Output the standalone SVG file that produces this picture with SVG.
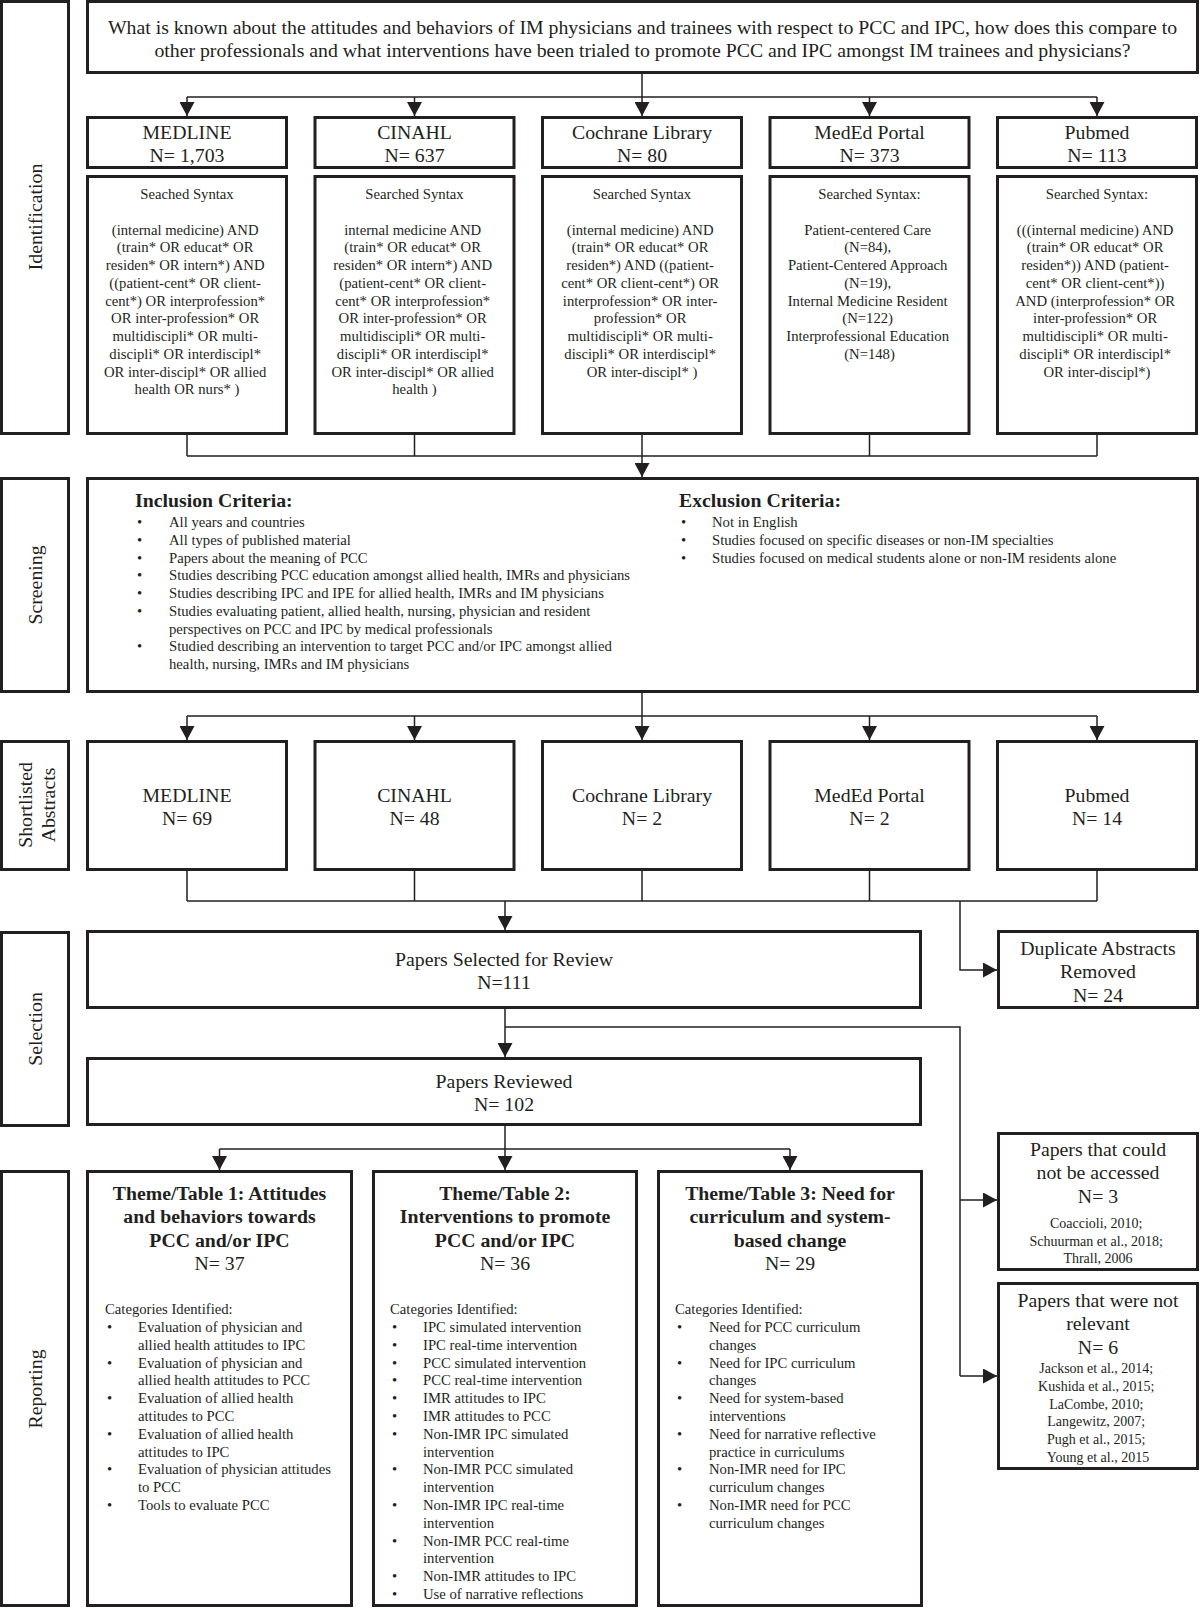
<svg xmlns="http://www.w3.org/2000/svg" width="1200" height="1608" viewBox="0 0 1200 1608">
<defs>
<style>
.b{fill:#fff;stroke:#231f20;stroke-width:3}
.t{font-family:"Liberation Serif","Times New Roman",serif;fill:#231f20}
.L{font-size:19.8px}
.s{font-size:14.7px}
.r{font-size:14px}
.c{text-anchor:middle}
.bd{font-weight:bold}
.ln{fill:none;stroke:#231f20;stroke-width:1.5}
.a{marker-end:url(#ar)}
</style>
<marker id="ar" markerUnits="userSpaceOnUse" markerWidth="14" markerHeight="15" viewBox="0 0 14 15" refX="14" refY="7.5" orient="auto">
<path d="M0,0 L14,7.5 L0,15 z" fill="#231f20"/>
</marker>
</defs>
<rect width="1200" height="1608" fill="#fff"/>

<!-- stage labels -->
<g id="stage-identification">
<rect class="b" x="1.5" y="1.5" width="67" height="432"/>
<text class="t L c" transform="translate(41.5,217) rotate(-90)">Identification</text>
</g>
<g id="stage-screening">
<rect class="b" x="1.5" y="478.5" width="67" height="213"/>
<text class="t L c" transform="translate(41.5,585) rotate(-90)">Screening</text>
</g>
<g id="stage-shortlisted">
<rect class="b" x="1.5" y="741.5" width="67" height="128"/>
<text class="t L c" transform="translate(31.5,805) rotate(-90)">Shortlisted</text>
<text class="t L c" transform="translate(54.5,805) rotate(-90)">Abstracts</text>
</g>
<g id="stage-selection">
<rect class="b" x="1.5" y="932.5" width="67" height="193"/>
<text class="t L c" transform="translate(41.5,1029) rotate(-90)">Selection</text>
</g>
<g id="stage-reporting">
<rect class="b" x="1.5" y="1171.5" width="67" height="434"/>
<text class="t L c" transform="translate(41.5,1389) rotate(-90)">Reporting</text>
</g>

<!-- question -->
<g id="question">
<rect class="b" x="87.5" y="1.5" width="1110" height="71"/>
<text class="t L c" x="642.5" y="33.5">What is known about the attitudes and behaviors of IM physicians and trainees with respect to PCC and IPC, how does this compare to</text>
<text class="t L c" x="642.5" y="56.5">other professionals and what interventions have been trialed to promote PCC and IPC amongst IM trainees and physicians?</text>
</g>

<!-- database headers -->
<g id="db-medline">
<rect class="b" x="87.5" y="117.5" width="199" height="50"/>
<text class="t L c" x="187" y="138.5">MEDLINE</text>
<text class="t L c" x="187" y="162">N= 1,703</text>
</g>
<g id="db-cinahl">
<rect class="b" x="315" y="117.5" width="199" height="50"/>
<text class="t L c" x="414.5" y="138.5">CINAHL</text>
<text class="t L c" x="414.5" y="162">N= 637</text>
</g>
<g id="db-cochrane">
<rect class="b" x="542.5" y="117.5" width="199" height="50"/>
<text class="t L c" x="642" y="138.5">Cochrane Library</text>
<text class="t L c" x="642" y="162">N= 80</text>
</g>
<g id="db-meded">
<rect class="b" x="770" y="117.5" width="199" height="50"/>
<text class="t L c" x="869.5" y="138.5">MedEd Portal</text>
<text class="t L c" x="869.5" y="162">N= 373</text>
</g>
<g id="db-pubmed">
<rect class="b" x="997.5" y="117.5" width="199" height="50"/>
<text class="t L c" x="1097" y="138.5">Pubmed</text>
<text class="t L c" x="1097" y="162">N= 113</text>
</g>

<!-- syntax boxes -->
<g id="syntax-medline">
<rect class="b" x="87.5" y="176.5" width="199" height="257"/>
<text class="t s c" x="187" y="199">Seached Syntax</text>
<text class="t s c" y="234.5">
<tspan x="187">(internal medicine) AND</tspan>
<tspan x="187" dy="17.75">(train* OR educat* OR</tspan>
<tspan x="187" dy="17.75">residen* OR intern*) AND</tspan>
<tspan x="187" dy="17.75">((patient-cent* OR client-</tspan>
<tspan x="187" dy="17.75">cent*) OR interprofession*</tspan>
<tspan x="187" dy="17.75">OR inter-profession* OR</tspan>
<tspan x="187" dy="17.75">multidiscipli* OR multi-</tspan>
<tspan x="187" dy="17.75">discipli* OR interdiscipl*</tspan>
<tspan x="187" dy="17.75">OR inter-discipl* OR allied</tspan>
<tspan x="187" dy="17.75">health OR nurs* )</tspan>
</text>
</g>
<g id="syntax-cinahl">
<rect class="b" x="315" y="176.5" width="199" height="257"/>
<text class="t s c" x="414.5" y="199">Searched Syntax</text>
<text class="t s c" y="234.5">
<tspan x="414.5">internal medicine AND</tspan>
<tspan x="414.5" dy="17.75">(train* OR educat* OR</tspan>
<tspan x="414.5" dy="17.75">residen* OR intern*) AND</tspan>
<tspan x="414.5" dy="17.75">(patient-cent* OR client-</tspan>
<tspan x="414.5" dy="17.75">cent* OR interprofession*</tspan>
<tspan x="414.5" dy="17.75">OR inter-profession* OR</tspan>
<tspan x="414.5" dy="17.75">multidiscipli* OR multi-</tspan>
<tspan x="414.5" dy="17.75">discipli* OR interdiscipl*</tspan>
<tspan x="414.5" dy="17.75">OR inter-discipl* OR allied</tspan>
<tspan x="414.5" dy="17.75">health )</tspan>
</text>
</g>
<g id="syntax-cochrane">
<rect class="b" x="542.5" y="176.5" width="199" height="257"/>
<text class="t s c" x="642" y="199">Searched Syntax</text>
<text class="t s c" y="234.5">
<tspan x="642">(internal medicine) AND</tspan>
<tspan x="642" dy="17.75">(train* OR educat* OR</tspan>
<tspan x="642" dy="17.75">residen*) AND ((patient-</tspan>
<tspan x="642" dy="17.75">cent* OR client-cent*) OR</tspan>
<tspan x="642" dy="17.75">interprofession* OR inter-</tspan>
<tspan x="642" dy="17.75">profession* OR</tspan>
<tspan x="642" dy="17.75">multidiscipli* OR multi-</tspan>
<tspan x="642" dy="17.75">discipli* OR interdiscipl*</tspan>
<tspan x="642" dy="17.75">OR inter-discipl* )</tspan>
</text>
</g>
<g id="syntax-meded">
<rect class="b" x="770" y="176.5" width="199" height="257"/>
<text class="t s c" x="869.5" y="199">Searched Syntax:</text>
<text class="t s c" y="234.5">
<tspan x="869.5">Patient-centered Care</tspan>
<tspan x="869.5" dy="17.75">(N=84),</tspan>
<tspan x="869.5" dy="17.75">Patient-Centered Approach</tspan>
<tspan x="869.5" dy="17.75">(N=19),</tspan>
<tspan x="869.5" dy="17.75">Internal Medicine Resident</tspan>
<tspan x="869.5" dy="17.75">(N=122)</tspan>
<tspan x="869.5" dy="17.75">Interprofessional Education</tspan>
<tspan x="869.5" dy="17.75">(N=148)</tspan>
</text>
</g>
<g id="syntax-pubmed">
<rect class="b" x="997.5" y="176.5" width="199" height="257"/>
<text class="t s c" x="1097" y="199">Searched Syntax:</text>
<text class="t s c" y="234.5">
<tspan x="1097">(((internal medicine) AND</tspan>
<tspan x="1097" dy="17.75">(train* OR educat* OR</tspan>
<tspan x="1097" dy="17.75">residen*)) AND (patient-</tspan>
<tspan x="1097" dy="17.75">cent* OR client-cent*))</tspan>
<tspan x="1097" dy="17.75">AND (interprofession* OR</tspan>
<tspan x="1097" dy="17.75">inter-profession* OR</tspan>
<tspan x="1097" dy="17.75">multidiscipli* OR multi-</tspan>
<tspan x="1097" dy="17.75">discipli* OR interdiscipl*</tspan>
<tspan x="1097" dy="17.75">OR inter-discipl*)</tspan>
</text>
</g>

<!-- screening -->
<g id="screening-criteria">
<rect class="b" x="87.5" y="478.5" width="1110" height="213"/>
<text class="t L bd" x="135" y="506.5">Inclusion Criteria:</text>
<text class="t s">
<tspan x="137" y="527">•</tspan>
<tspan x="137" y="544.75">•</tspan>
<tspan x="137" y="562.5">•</tspan>
<tspan x="137" y="580.25">•</tspan>
<tspan x="137" y="598">•</tspan>
<tspan x="137" y="615.75">•</tspan>
<tspan x="137" y="651.25">•</tspan>
</text>
<text class="t s">
<tspan x="169" y="527">All years and countries</tspan>
<tspan x="169" y="544.75">All types of published material</tspan>
<tspan x="169" y="562.5">Papers about the meaning of PCC</tspan>
<tspan x="169" y="580.25">Studies describing PCC education amongst allied health, IMRs and physicians</tspan>
<tspan x="169" y="598">Studies describing IPC and IPE for allied health, IMRs and IM physicians</tspan>
<tspan x="169" y="615.75">Studies evaluating patient, allied health, nursing, physician and resident</tspan>
<tspan x="169" y="633.5">perspectives on PCC and IPC by medical professionals</tspan>
<tspan x="169" y="651.25">Studied describing an intervention to target PCC and/or IPC amongst allied</tspan>
<tspan x="169" y="669">health, nursing, IMRs and IM physicians</tspan>
</text>
<text class="t L bd" x="679" y="506.5">Exclusion Criteria:</text>
<text class="t s">
<tspan x="681" y="527">•</tspan>
<tspan x="681" y="544.75">•</tspan>
<tspan x="681" y="562.5">•</tspan>
</text>
<text class="t s">
<tspan x="712" y="527">Not in English</tspan>
<tspan x="712" y="544.75">Studies focused on specific diseases or non-IM specialties</tspan>
<tspan x="712" y="562.5">Studies focused on medical students alone or non-IM residents alone</tspan>
</text>
</g>

<!-- shortlisted -->
<g id="sl-medline">
<rect class="b" x="87.5" y="741.5" width="199" height="128"/>
<text class="t L c" x="187" y="801.5">MEDLINE</text>
<text class="t L c" x="187" y="825">N= 69</text>
</g>
<g id="sl-cinahl">
<rect class="b" x="315" y="741.5" width="199" height="128"/>
<text class="t L c" x="414.5" y="801.5">CINAHL</text>
<text class="t L c" x="414.5" y="825">N= 48</text>
</g>
<g id="sl-cochrane">
<rect class="b" x="542.5" y="741.5" width="199" height="128"/>
<text class="t L c" x="642" y="801.5">Cochrane Library</text>
<text class="t L c" x="642" y="825">N= 2</text>
</g>
<g id="sl-meded">
<rect class="b" x="770" y="741.5" width="199" height="128"/>
<text class="t L c" x="869.5" y="801.5">MedEd Portal</text>
<text class="t L c" x="869.5" y="825">N= 2</text>
</g>
<g id="sl-pubmed">
<rect class="b" x="997.5" y="741.5" width="199" height="128"/>
<text class="t L c" x="1097" y="801.5">Pubmed</text>
<text class="t L c" x="1097" y="825">N= 14</text>
</g>

<!-- selection -->
<g id="papers-selected">
<rect class="b" x="87.5" y="931.5" width="833" height="76"/>
<text class="t L c" x="504" y="965.5">Papers Selected for Review</text>
<text class="t L c" x="504" y="989">N=111</text>
</g>
<g id="duplicates-removed">
<rect class="b" x="998.5" y="931.5" width="199" height="76"/>
<text class="t L c" x="1098" y="954.5">Duplicate Abstracts</text>
<text class="t L c" x="1098" y="978">Removed</text>
<text class="t L c" x="1098" y="1001.5">N= 24</text>
</g>
<g id="papers-reviewed">
<rect class="b" x="87.5" y="1058.5" width="833" height="66"/>
<text class="t L c" x="504" y="1087.5">Papers Reviewed</text>
<text class="t L c" x="504" y="1111">N= 102</text>
</g>

<!-- reporting -->
<g id="theme-1">
<rect class="b" x="87.5" y="1171.5" width="264" height="434"/>
<text class="t L c bd" x="219.5" y="1199.5">Theme/Table 1: Attitudes</text>
<text class="t L c bd" x="219.5" y="1223">and behaviors towards</text>
<text class="t L c bd" x="219.5" y="1246.5">PCC and/or IPC</text>
<text class="t L c" x="219.5" y="1270">N= 37</text>
<text class="t s" x="105" y="1314">Categories Identified:</text>
<text class="t s">
<tspan x="107" y="1332">•</tspan>
<tspan x="107" y="1367.6">•</tspan>
<tspan x="107" y="1403.2">•</tspan>
<tspan x="107" y="1438.8">•</tspan>
<tspan x="107" y="1474.4">•</tspan>
<tspan x="107" y="1510">•</tspan>
</text>
<text class="t s">
<tspan x="138" y="1332">Evaluation of physician and</tspan>
<tspan x="138" y="1349.8">allied health attitudes to IPC</tspan>
<tspan x="138" y="1367.6">Evaluation of physician and</tspan>
<tspan x="138" y="1385.4">allied health attitudes to PCC</tspan>
<tspan x="138" y="1403.2">Evaluation of allied health</tspan>
<tspan x="138" y="1421">attitudes to PCC</tspan>
<tspan x="138" y="1438.8">Evaluation of allied health</tspan>
<tspan x="138" y="1456.6">attitudes to IPC</tspan>
<tspan x="138" y="1474.4">Evaluation of physician attitudes</tspan>
<tspan x="138" y="1492.2">to PCC</tspan>
<tspan x="138" y="1510">Tools to evaluate PCC</tspan>
</text>
</g>
<g id="theme-2">
<rect class="b" x="373.5" y="1171.5" width="263" height="434"/>
<text class="t L c bd" x="505" y="1199.5">Theme/Table 2:</text>
<text class="t L c bd" x="505" y="1223">Interventions to promote</text>
<text class="t L c bd" x="505" y="1246.5">PCC and/or IPC</text>
<text class="t L c" x="505" y="1270">N= 36</text>
<text class="t s" x="390" y="1314">Categories Identified:</text>
<text class="t s">
<tspan x="392" y="1332">•</tspan>
<tspan x="392" y="1349.8">•</tspan>
<tspan x="392" y="1367.6">•</tspan>
<tspan x="392" y="1385.4">•</tspan>
<tspan x="392" y="1403.2">•</tspan>
<tspan x="392" y="1421">•</tspan>
<tspan x="392" y="1438.8">•</tspan>
<tspan x="392" y="1474.4">•</tspan>
<tspan x="392" y="1510">•</tspan>
<tspan x="392" y="1545.6">•</tspan>
<tspan x="392" y="1581.2">•</tspan>
<tspan x="392" y="1599">•</tspan>
</text>
<text class="t s">
<tspan x="423" y="1332">IPC simulated intervention</tspan>
<tspan x="423" y="1349.8">IPC real-time intervention</tspan>
<tspan x="423" y="1367.6">PCC simulated intervention</tspan>
<tspan x="423" y="1385.4">PCC real-time intervention</tspan>
<tspan x="423" y="1403.2">IMR attitudes to IPC</tspan>
<tspan x="423" y="1421">IMR attitudes to PCC</tspan>
<tspan x="423" y="1438.8">Non-IMR IPC simulated</tspan>
<tspan x="423" y="1456.6">intervention</tspan>
<tspan x="423" y="1474.4">Non-IMR PCC simulated</tspan>
<tspan x="423" y="1492.2">intervention</tspan>
<tspan x="423" y="1510">Non-IMR IPC real-time</tspan>
<tspan x="423" y="1527.8">intervention</tspan>
<tspan x="423" y="1545.6">Non-IMR PCC real-time</tspan>
<tspan x="423" y="1563.4">intervention</tspan>
<tspan x="423" y="1581.2">Non-IMR attitudes to IPC</tspan>
<tspan x="423" y="1599">Use of narrative reflections</tspan>
</text>
</g>
<g id="theme-3">
<rect class="b" x="658.5" y="1171.5" width="263" height="434"/>
<text class="t L c bd" x="790" y="1199.5">Theme/Table 3: Need for</text>
<text class="t L c bd" x="790" y="1223">curriculum and system-</text>
<text class="t L c bd" x="790" y="1246.5">based change</text>
<text class="t L c" x="790" y="1270">N= 29</text>
<text class="t s" x="675" y="1314">Categories Identified:</text>
<text class="t s">
<tspan x="677" y="1332">•</tspan>
<tspan x="677" y="1367.6">•</tspan>
<tspan x="677" y="1403.2">•</tspan>
<tspan x="677" y="1438.8">•</tspan>
<tspan x="677" y="1474.4">•</tspan>
<tspan x="677" y="1510">•</tspan>
</text>
<text class="t s">
<tspan x="709" y="1332">Need for PCC curriculum</tspan>
<tspan x="709" y="1349.8">changes</tspan>
<tspan x="709" y="1367.6">Need for IPC curriculum</tspan>
<tspan x="709" y="1385.4">changes</tspan>
<tspan x="709" y="1403.2">Need for system-based</tspan>
<tspan x="709" y="1421">interventions</tspan>
<tspan x="709" y="1438.8">Need for narrative reflective</tspan>
<tspan x="709" y="1456.6">practice in curriculums</tspan>
<tspan x="709" y="1474.4">Non-IMR need for IPC</tspan>
<tspan x="709" y="1492.2">curriculum changes</tspan>
<tspan x="709" y="1510">Non-IMR need for PCC</tspan>
<tspan x="709" y="1527.8">curriculum changes</tspan>
</text>
</g>
<g id="not-accessed">
<rect class="b" x="998.5" y="1133.5" width="199" height="136"/>
<text class="t L c" x="1098" y="1155.5">Papers that could</text>
<text class="t L c" x="1098" y="1179">not be accessed</text>
<text class="t L c" x="1098" y="1202.5">N= 3</text>
<text class="t r c">
<tspan x="1098" y="1228">Coaccioli, 2010;</tspan>
<tspan x="1098" y="1245.7">Schuurman et al., 2018;</tspan>
<tspan x="1098" y="1263.4">Thrall, 2006</tspan>
</text>
</g>
<g id="not-relevant">
<rect class="b" x="998.5" y="1283.5" width="199" height="185"/>
<text class="t L c" x="1098" y="1306.5">Papers that were not</text>
<text class="t L c" x="1098" y="1330">relevant</text>
<text class="t L c" x="1098" y="1353.5">N= 6</text>
<text class="t r c">
<tspan x="1098" y="1373">Jackson et al., 2014;</tspan>
<tspan x="1098" y="1390.8">Kushida et al., 2015;</tspan>
<tspan x="1098" y="1408.6">LaCombe, 2010;</tspan>
<tspan x="1098" y="1426.4">Langewitz, 2007;</tspan>
<tspan x="1098" y="1444.2">Pugh et al., 2015;</tspan>
<tspan x="1098" y="1462">Young et al., 2015</tspan>
</text>
</g>

<!-- connectors -->
<g id="connectors">
<path class="ln" d="M642,74 V97 M187,97 H1097"/>
<path class="ln a" d="M187,97 V116"/>
<path class="ln a" d="M414.5,97 V116"/>
<path class="ln a" d="M642,97 V116"/>
<path class="ln a" d="M869.5,97 V116"/>
<path class="ln a" d="M1097,97 V116"/>
<path class="ln" d="M187,435 V456 M414.5,435 V456 M869.5,435 V456 M1097,435 V456 M187,456 H1097"/>
<path class="ln a" d="M642,435 V477"/>
<path class="ln" d="M642,693 V716 M187,716 H1097"/>
<path class="ln a" d="M187,716 V740"/>
<path class="ln a" d="M414.5,716 V740"/>
<path class="ln a" d="M642,716 V740"/>
<path class="ln a" d="M869.5,716 V740"/>
<path class="ln a" d="M1097,716 V740"/>
<path class="ln" d="M187,871 V901 M414.5,871 V901 M642,871 V901 M869.5,871 V901 M1097,871 V901 M187,901 H1097"/>
<path class="ln a" d="M505,901 V930"/>
<path class="ln a" d="M960,901 V970 H997"/>
<path class="ln a" d="M505,1009 V1057"/>
<path class="ln" d="M505,1027 H960 V1376"/>
<path class="ln a" d="M960,1200 H997"/>
<path class="ln a" d="M960,1376 H997"/>
<path class="ln a" d="M505,1126 V1170"/>
<path class="ln" d="M219.5,1149 H790"/>
<path class="ln a" d="M219.5,1149 V1170"/>
<path class="ln a" d="M790,1149 V1170"/>
</g>
</svg>
